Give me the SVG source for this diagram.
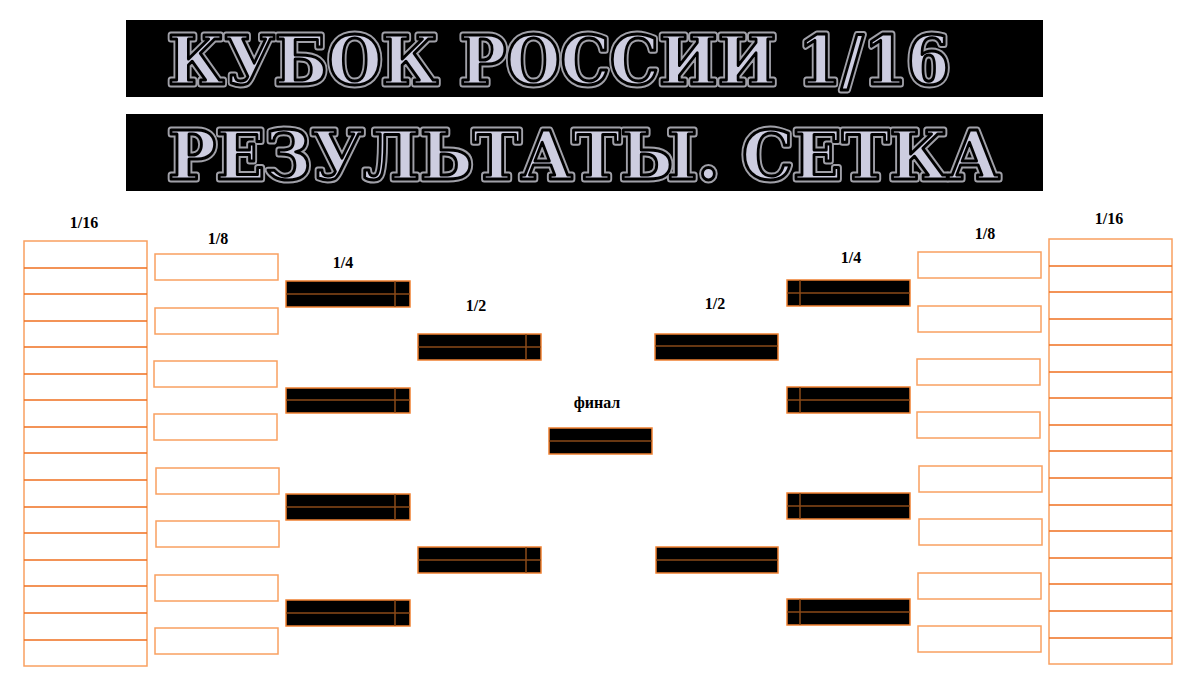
<svg xmlns="http://www.w3.org/2000/svg" width="1200" height="675" viewBox="0 0 1200 675">
<style>
.t{font-family:"DejaVu Serif",serif;font-weight:bold;font-size:68px;fill:#cdcde0}
.to{stroke:#a0a0a8;stroke-width:7;stroke-linejoin:round}
.ti{stroke:#000;stroke-width:3;stroke-linejoin:round}
.l{font-family:"Liberation Serif",serif;font-weight:bold;font-size:16px;fill:#000;text-anchor:middle}
.w{fill:#fff;stroke:#f9a060;stroke-width:1.5}
.b{fill:#000;stroke:#f08030;stroke-width:1.5}
.ln{stroke:#f07020;stroke-width:1.3}
.dl{stroke:#8a4a18;stroke-width:1.5}
</style>
<g id="title">
<rect x="126" y="20" width="917" height="77" fill="#000"/>
<rect x="126" y="114" width="917" height="77" fill="#000"/>
<text class="t to" x="168" y="84" textLength="782" lengthAdjust="spacingAndGlyphs">КУБОК РОССИИ 1/16</text>
<text class="t ti" x="168" y="84" textLength="782" lengthAdjust="spacingAndGlyphs">КУБОК РОССИИ 1/16</text>
<text class="t to" x="168" y="179" textLength="832" lengthAdjust="spacingAndGlyphs">РЕЗУЛЬТАТЫ. СЕТКА</text>
<text class="t ti" x="168" y="179" textLength="832" lengthAdjust="spacingAndGlyphs">РЕЗУЛЬТАТЫ. СЕТКА</text>
</g>
<g id="labels">
<text class="l" x="84" y="228">1/16</text>
<text class="l" x="218" y="244">1/8</text>
<text class="l" x="343" y="268">1/4</text>
<text class="l" x="476" y="311">1/2</text>
<text class="l" x="597" y="408">финал</text>
<text class="l" x="715" y="309">1/2</text>
<text class="l" x="851" y="263">1/4</text>
<text class="l" x="985" y="239">1/8</text>
<text class="l" x="1109" y="224">1/16</text>
</g>
<g id="r16-left">
<rect class="w" x="24" y="241" width="123" height="425"/>
<path class="ln" d="M24 268H147M24 294H147M24 321H147M24 347H147M24 374H147M24 400H147M24 427H147M24 453H147M24 480H147M24 507H147M24 533H147M24 560H147M24 586H147M24 613H147M24 640H147"/>
</g>
<g id="r16-right">
<rect class="w" x="1049" y="239" width="123" height="425"/>
<path class="ln" d="M1049 266H1172M1049 292H1172M1049 319H1172M1049 345H1172M1049 372H1172M1049 398H1172M1049 425H1172M1049 451H1172M1049 478H1172M1049 505H1172M1049 531H1172M1049 558H1172M1049 584H1172M1049 611H1172M1049 638H1172"/>
</g>
<g id="r8-left">
<rect class="w" x="155" y="254" width="123" height="26"/>
<rect class="w" x="155" y="308" width="123" height="26"/>
<rect class="w" x="154" y="361" width="123" height="26"/>
<rect class="w" x="154" y="414" width="123" height="26"/>
<rect class="w" x="156" y="468" width="123" height="26"/>
<rect class="w" x="156" y="521" width="123" height="26"/>
<rect class="w" x="155" y="575" width="123" height="26"/>
<rect class="w" x="155" y="628" width="123" height="26"/>
</g>
<g id="r8-right">
<rect class="w" x="918" y="252" width="123" height="26"/>
<rect class="w" x="918" y="306" width="123" height="26"/>
<rect class="w" x="917" y="359" width="123" height="26"/>
<rect class="w" x="917" y="412" width="123" height="26"/>
<rect class="w" x="919" y="466" width="123" height="26"/>
<rect class="w" x="919" y="519" width="123" height="26"/>
<rect class="w" x="918" y="573" width="123" height="26"/>
<rect class="w" x="918" y="626" width="123" height="26"/>
</g>
<g id="qf-left">
<rect class="b" x="286" y="281" width="124" height="26"/><path class="dl" d="M286 294H410M395 281V307"/>
<rect class="b" x="286" y="388" width="124" height="25"/><path class="dl" d="M286 400H410M395 388V413"/>
<rect class="b" x="286" y="494" width="124" height="26"/><path class="dl" d="M286 507H410M395 494V520"/>
<rect class="b" x="286" y="600" width="124" height="26"/><path class="dl" d="M286 613H410M395 600V626"/>
</g>
<g id="qf-right">
<rect class="b" x="787" y="280" width="123" height="26"/><path class="dl" d="M787 293H910M800 280V306"/>
<rect class="b" x="787" y="387" width="123" height="26"/><path class="dl" d="M787 400H910M800 387V413"/>
<rect class="b" x="787" y="493" width="123" height="26"/><path class="dl" d="M787 506H910M800 493V519"/>
<rect class="b" x="787" y="599" width="123" height="26"/><path class="dl" d="M787 612H910M800 599V625"/>
</g>
<g id="sf-left">
<rect class="b" x="418" y="334" width="123" height="26"/><path class="dl" d="M418 347H541M526 334V360"/>
<rect class="b" x="418" y="547" width="123" height="26"/><path class="dl" d="M418 560H541M526 547V573"/>
</g>
<g id="sf-right">
<rect class="b" x="655" y="334" width="123" height="26"/><path class="dl" d="M655 346H778"/>
<rect class="b" x="656" y="547" width="122" height="26"/><path class="dl" d="M656 560H778"/>
</g>
<g id="final">
<rect class="b" x="549" y="428" width="103" height="26"/><path class="dl" d="M549 441H652"/>
</g>
<g id="connectors"/>
</svg>
